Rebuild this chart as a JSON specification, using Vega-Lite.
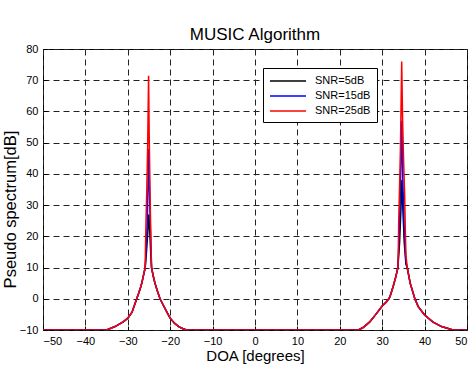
{
  "$schema": "https://vega.github.io/schema/vega-lite/v6.json",
  "autosize": "none",
  "width": 424,
  "height": 281,
  "padding": {"left": 43, "top": 49, "right": 7, "bottom": 56},
  "background": "white",
  "title": {"text": "MUSIC Algorithm", "fontSize": 17, "fontWeight": "normal", "font": "Liberation Sans", "color": "#000", "offset": -1},
  "config": {
    "view": {"stroke": "#000", "strokeWidth": 1},
    "axis": {"labelFont": "Liberation Sans", "labelFontSize": 11, "labelColor": "#000", "titleFont": "Liberation Sans", "titleFontSize": 15, "titleFontWeight": "normal", "titleColor": "#000", "domainColor": "#000", "tickColor": "#000", "gridColor": "#222", "gridDash": [6, 4], "gridOpacity": 1, "gridWidth": 1}
  },
  "datasets": {
    "spec": [
      {"doa": -50, "db": -10, "snr": "SNR=5dB"}, {"doa": -35, "db": -10, "snr": "SNR=5dB"}, {"doa": -33, "db": -8.9, "snr": "SNR=5dB"}, {"doa": -31, "db": -7.3, "snr": "SNR=5dB"}, {"doa": -30, "db": -6.2, "snr": "SNR=5dB"}, {"doa": -29, "db": -4.3, "snr": "SNR=5dB"}, {"doa": -28, "db": -0.4, "snr": "SNR=5dB"}, {"doa": -27.5, "db": 1.5, "snr": "SNR=5dB"}, {"doa": -27, "db": 3.6, "snr": "SNR=5dB"}, {"doa": -26.7, "db": 5, "snr": "SNR=5dB"}, {"doa": -26.3, "db": 7.5, "snr": "SNR=5dB"}, {"doa": -25.9, "db": 10, "snr": "SNR=5dB"},
      {"doa": -25.6, "db": 15, "snr": "SNR=5dB"}, {"doa": -25.3, "db": 21, "snr": "SNR=5dB"}, {"doa": -25.05, "db": 27, "snr": "SNR=5dB"}, {"doa": -24.8, "db": 21, "snr": "SNR=5dB"}, {"doa": -24.6, "db": 15, "snr": "SNR=5dB"},
      {"doa": -24.4, "db": 10, "snr": "SNR=5dB"}, {"doa": -24, "db": 7.3, "snr": "SNR=5dB"}, {"doa": -23.6, "db": 5, "snr": "SNR=5dB"}, {"doa": -23, "db": 2.4, "snr": "SNR=5dB"}, {"doa": -22.4, "db": 0, "snr": "SNR=5dB"}, {"doa": -21.5, "db": -2.4, "snr": "SNR=5dB"}, {"doa": -20.5, "db": -5, "snr": "SNR=5dB"}, {"doa": -20, "db": -6.2, "snr": "SNR=5dB"}, {"doa": -19, "db": -7.8, "snr": "SNR=5dB"}, {"doa": -18, "db": -8.9, "snr": "SNR=5dB"}, {"doa": -17, "db": -9.6, "snr": "SNR=5dB"}, {"doa": -16.1, "db": -10, "snr": "SNR=5dB"}, {"doa": 24.4, "db": -10, "snr": "SNR=5dB"}, {"doa": 25.5, "db": -9.2, "snr": "SNR=5dB"}, {"doa": 27, "db": -7.5, "snr": "SNR=5dB"}, {"doa": 28.5, "db": -5, "snr": "SNR=5dB"}, {"doa": 30, "db": -2.3, "snr": "SNR=5dB"}, {"doa": 31, "db": -1, "snr": "SNR=5dB"}, {"doa": 31.8, "db": 0.5, "snr": "SNR=5dB"}, {"doa": 32.6, "db": 4, "snr": "SNR=5dB"}, {"doa": 33.2, "db": 7, "snr": "SNR=5dB"}, {"doa": 33.7, "db": 10, "snr": "SNR=5dB"},
      {"doa": 34.1, "db": 18, "snr": "SNR=5dB"}, {"doa": 34.4, "db": 28, "snr": "SNR=5dB"}, {"doa": 34.65, "db": 38, "snr": "SNR=5dB"}, {"doa": 34.9, "db": 28, "snr": "SNR=5dB"}, {"doa": 35.2, "db": 18, "snr": "SNR=5dB"}, {"doa": 35.6, "db": 11, "snr": "SNR=5dB"},
      {"doa": 35.9, "db": 10, "snr": "SNR=5dB"}, {"doa": 36.6, "db": 5, "snr": "SNR=5dB"}, {"doa": 37.7, "db": 0, "snr": "SNR=5dB"}, {"doa": 38.5, "db": -2.5, "snr": "SNR=5dB"}, {"doa": 40, "db": -5.2, "snr": "SNR=5dB"}, {"doa": 42, "db": -7.5, "snr": "SNR=5dB"}, {"doa": 44, "db": -8.9, "snr": "SNR=5dB"}, {"doa": 46.7, "db": -10, "snr": "SNR=5dB"}, {"doa": 50, "db": -10, "snr": "SNR=5dB"},

      {"doa": -50, "db": -10, "snr": "SNR=15dB"}, {"doa": -35, "db": -10, "snr": "SNR=15dB"}, {"doa": -33, "db": -8.9, "snr": "SNR=15dB"}, {"doa": -31, "db": -7.3, "snr": "SNR=15dB"}, {"doa": -30, "db": -6.2, "snr": "SNR=15dB"}, {"doa": -29, "db": -4.3, "snr": "SNR=15dB"}, {"doa": -28, "db": -0.4, "snr": "SNR=15dB"}, {"doa": -27.5, "db": 1.5, "snr": "SNR=15dB"}, {"doa": -27, "db": 3.6, "snr": "SNR=15dB"}, {"doa": -26.7, "db": 5, "snr": "SNR=15dB"}, {"doa": -26.3, "db": 7.5, "snr": "SNR=15dB"}, {"doa": -25.9, "db": 10, "snr": "SNR=15dB"},
      {"doa": -25.7, "db": 15, "snr": "SNR=15dB"}, {"doa": -25.4, "db": 25, "snr": "SNR=15dB"}, {"doa": -25.2, "db": 38, "snr": "SNR=15dB"}, {"doa": -25.05, "db": 48, "snr": "SNR=15dB"}, {"doa": -24.9, "db": 36, "snr": "SNR=15dB"}, {"doa": -24.7, "db": 24, "snr": "SNR=15dB"}, {"doa": -24.5, "db": 15, "snr": "SNR=15dB"},
      {"doa": -24.4, "db": 10, "snr": "SNR=15dB"}, {"doa": -24, "db": 7.3, "snr": "SNR=15dB"}, {"doa": -23.6, "db": 5, "snr": "SNR=15dB"}, {"doa": -23, "db": 2.4, "snr": "SNR=15dB"}, {"doa": -22.4, "db": 0, "snr": "SNR=15dB"}, {"doa": -21.5, "db": -2.4, "snr": "SNR=15dB"}, {"doa": -20.5, "db": -5, "snr": "SNR=15dB"}, {"doa": -20, "db": -6.2, "snr": "SNR=15dB"}, {"doa": -19, "db": -7.8, "snr": "SNR=15dB"}, {"doa": -18, "db": -8.9, "snr": "SNR=15dB"}, {"doa": -17, "db": -9.6, "snr": "SNR=15dB"}, {"doa": -16.1, "db": -10, "snr": "SNR=15dB"}, {"doa": 24.4, "db": -10, "snr": "SNR=15dB"}, {"doa": 25.5, "db": -9.2, "snr": "SNR=15dB"}, {"doa": 27, "db": -7.5, "snr": "SNR=15dB"}, {"doa": 28.5, "db": -5, "snr": "SNR=15dB"}, {"doa": 30, "db": -2.3, "snr": "SNR=15dB"}, {"doa": 31, "db": -1, "snr": "SNR=15dB"}, {"doa": 31.8, "db": 0.5, "snr": "SNR=15dB"}, {"doa": 32.6, "db": 4, "snr": "SNR=15dB"}, {"doa": 33.2, "db": 7, "snr": "SNR=15dB"}, {"doa": 33.7, "db": 10, "snr": "SNR=15dB"},
      {"doa": 34.0, "db": 20, "snr": "SNR=15dB"}, {"doa": 34.3, "db": 35, "snr": "SNR=15dB"}, {"doa": 34.6, "db": 57, "snr": "SNR=15dB"}, {"doa": 34.9, "db": 36, "snr": "SNR=15dB"}, {"doa": 35.2, "db": 22, "snr": "SNR=15dB"}, {"doa": 35.6, "db": 12, "snr": "SNR=15dB"},
      {"doa": 35.9, "db": 10, "snr": "SNR=15dB"}, {"doa": 36.6, "db": 5, "snr": "SNR=15dB"}, {"doa": 37.7, "db": 0, "snr": "SNR=15dB"}, {"doa": 38.5, "db": -2.5, "snr": "SNR=15dB"}, {"doa": 40, "db": -5.2, "snr": "SNR=15dB"}, {"doa": 42, "db": -7.5, "snr": "SNR=15dB"}, {"doa": 44, "db": -8.9, "snr": "SNR=15dB"}, {"doa": 46.7, "db": -10, "snr": "SNR=15dB"}, {"doa": 50, "db": -10, "snr": "SNR=15dB"},

      {"doa": -50, "db": -10, "snr": "SNR=25dB"}, {"doa": -35, "db": -10, "snr": "SNR=25dB"}, {"doa": -33, "db": -8.9, "snr": "SNR=25dB"}, {"doa": -31, "db": -7.3, "snr": "SNR=25dB"}, {"doa": -30, "db": -6.2, "snr": "SNR=25dB"}, {"doa": -29, "db": -4.3, "snr": "SNR=25dB"}, {"doa": -28, "db": -0.4, "snr": "SNR=25dB"}, {"doa": -27.5, "db": 1.5, "snr": "SNR=25dB"}, {"doa": -27, "db": 3.6, "snr": "SNR=25dB"}, {"doa": -26.7, "db": 5, "snr": "SNR=25dB"}, {"doa": -26.3, "db": 7.5, "snr": "SNR=25dB"}, {"doa": -25.9, "db": 10, "snr": "SNR=25dB"},
      {"doa": -25.85, "db": 15, "snr": "SNR=25dB"}, {"doa": -25.7, "db": 25, "snr": "SNR=25dB"}, {"doa": -25.5, "db": 36, "snr": "SNR=25dB"}, {"doa": -25.3, "db": 50, "snr": "SNR=25dB"}, {"doa": -25.1, "db": 71.4, "snr": "SNR=25dB"}, {"doa": -24.95, "db": 52, "snr": "SNR=25dB"}, {"doa": -24.75, "db": 34, "snr": "SNR=25dB"}, {"doa": -24.6, "db": 22, "snr": "SNR=25dB"}, {"doa": -24.5, "db": 15, "snr": "SNR=25dB"},
      {"doa": -24.4, "db": 10, "snr": "SNR=25dB"}, {"doa": -24, "db": 7.3, "snr": "SNR=25dB"}, {"doa": -23.6, "db": 5, "snr": "SNR=25dB"}, {"doa": -23, "db": 2.4, "snr": "SNR=25dB"}, {"doa": -22.4, "db": 0, "snr": "SNR=25dB"}, {"doa": -21.5, "db": -2.4, "snr": "SNR=25dB"}, {"doa": -20.5, "db": -5, "snr": "SNR=25dB"}, {"doa": -20, "db": -6.2, "snr": "SNR=25dB"}, {"doa": -19, "db": -7.8, "snr": "SNR=25dB"}, {"doa": -18, "db": -8.9, "snr": "SNR=25dB"}, {"doa": -17, "db": -9.6, "snr": "SNR=25dB"}, {"doa": -16.1, "db": -10, "snr": "SNR=25dB"}, {"doa": 24.4, "db": -10, "snr": "SNR=25dB"}, {"doa": 25.5, "db": -9.2, "snr": "SNR=25dB"}, {"doa": 27, "db": -7.5, "snr": "SNR=25dB"}, {"doa": 28.5, "db": -5, "snr": "SNR=25dB"}, {"doa": 30, "db": -2.3, "snr": "SNR=25dB"}, {"doa": 31, "db": -1, "snr": "SNR=25dB"}, {"doa": 31.8, "db": 0.5, "snr": "SNR=25dB"}, {"doa": 32.6, "db": 4, "snr": "SNR=25dB"}, {"doa": 33.2, "db": 7, "snr": "SNR=25dB"}, {"doa": 33.7, "db": 10, "snr": "SNR=25dB"},
      {"doa": 33.8, "db": 15, "snr": "SNR=25dB"}, {"doa": 33.9, "db": 25, "snr": "SNR=25dB"}, {"doa": 34.1, "db": 36, "snr": "SNR=25dB"}, {"doa": 34.3, "db": 48, "snr": "SNR=25dB"}, {"doa": 34.45, "db": 62, "snr": "SNR=25dB"}, {"doa": 34.6, "db": 76, "snr": "SNR=25dB"}, {"doa": 34.8, "db": 58, "snr": "SNR=25dB"}, {"doa": 35.05, "db": 44, "snr": "SNR=25dB"}, {"doa": 35.3, "db": 33, "snr": "SNR=25dB"}, {"doa": 35.45, "db": 22, "snr": "SNR=25dB"}, {"doa": 35.6, "db": 14, "snr": "SNR=25dB"},
      {"doa": 35.9, "db": 10, "snr": "SNR=25dB"}, {"doa": 36.6, "db": 5, "snr": "SNR=25dB"}, {"doa": 37.7, "db": 0, "snr": "SNR=25dB"}, {"doa": 38.5, "db": -2.5, "snr": "SNR=25dB"}, {"doa": 40, "db": -5.2, "snr": "SNR=25dB"}, {"doa": 42, "db": -7.5, "snr": "SNR=25dB"}, {"doa": 44, "db": -8.9, "snr": "SNR=25dB"}, {"doa": 46.7, "db": -10, "snr": "SNR=25dB"}, {"doa": 50, "db": -10, "snr": "SNR=25dB"}
    ]
  },
  "data": {"name": "spec"},
  "layer": [
    {
      "mark": {"type": "line", "clip": true, "interpolate": "linear"},
      "encoding": {
        "x": {"field": "doa", "type": "quantitative", "scale": {"domain": [-50, 50], "nice": false},
          "axis": {"title": "DOA [degrees]", "values": [-50,-40,-30,-20,-10,0,10,20,30,40,50], "tickSize": -4, "labelPadding": 9, "titlePadding": 2, "domain": false, "grid": true}},
        "y": {"field": "db", "type": "quantitative", "scale": {"domain": [-10, 80], "nice": false},
          "axis": {"title": "Pseudo spectrum[dB]", "titleFontSize": 16.5, "titleY": 160, "values": [-10,0,10,20,30,40,50,60,70,80], "tickSize": -4, "labelPadding": 9, "titlePadding": 1, "domain": false, "grid": true}},
        "color": {"field": "snr", "type": "nominal",
          "scale": {"domain": ["SNR=5dB", "SNR=15dB", "SNR=25dB"], "range": ["#000000", "#0000ff", "#ff0000"]},
          "legend": {"title": null, "orient": "none", "legendX": 220, "legendY": 19, "direction": "vertical", "symbolType": "M-1,0H5", "symbolSize": 144, "symbolStrokeWidth": 2.5, "labelFont": "Liberation Sans", "labelFontSize": 11, "labelColor": "#000", "labelOffset": 32, "padding": 6, "strokeColor": "#000", "fillColor": "#fff", "cornerRadius": 0, "rowPadding": 3}},
        "strokeWidth": {"field": "snr", "type": "nominal", "scale": {"domain": ["SNR=5dB", "SNR=15dB", "SNR=25dB"], "range": [1.5, 1.5, 3]}, "legend": null}
      }
    }
  ]
}
